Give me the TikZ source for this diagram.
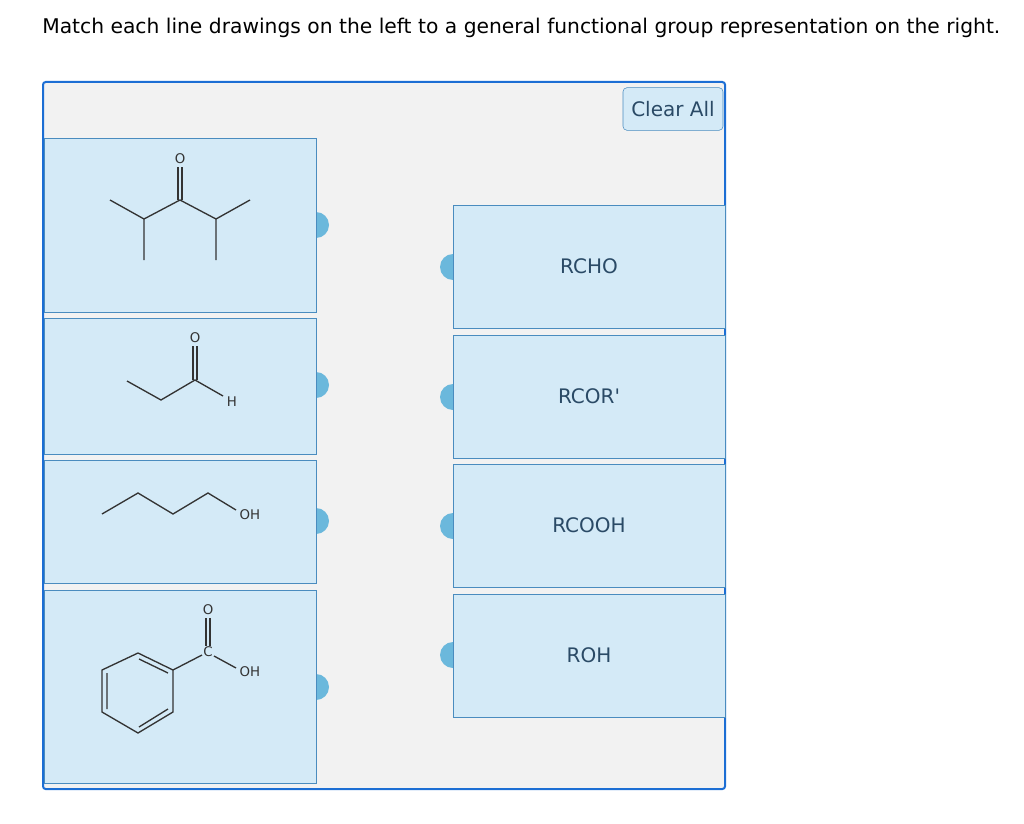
\documentclass[tikz,border=0pt]{standalone}
\usepackage{fontspec}
\setmainfont{DejaVu Sans}
\begin{document}
\begin{tikzpicture}[x=0.75pt, y=-0.75pt,
    card/.style={draw=cardline, fill=cardfill, line width=0.6pt},
    tab/.style={fill=tabfill},
    bond/.style={draw=bondcol, line width=1pt},
    atom/.style={inner sep=0pt, text=bondcol, font=\fontsize{10}{12}\selectfont},
    label/.style={text=labelcol, font=\fontsize{15}{17}\selectfont}
]
\definecolor{cardfill}{HTML}{D4EAF7}
\definecolor{cardline}{HTML}{4A8CBF}
\definecolor{tabfill}{HTML}{6BB8DC}
\definecolor{bondcol}{HTML}{333333}
\definecolor{labelcol}{HTML}{2A4A66}
\definecolor{framecol}{HTML}{1C6ED4}
\useasboundingbox (0,0) rectangle (1024,824);
\node[anchor=west, inner sep=0pt, font=\fontsize{15.2}{17}\selectfont] (title) at (42,28)
    {Match each line drawings on the left to a general functional group representation on the right.};
% frame
\draw[framecol, line width=1.5pt, fill=black!5, rounded corners=2pt] (43,82) rectangle (725,789);
\node[draw=cardline, fill=cardfill, rounded corners=3pt, minimum width=75pt, minimum height=32pt,
    label, inner sep=0pt] (clear) at (673,109) {Clear All};
% left cards with tabs
\foreach \ya/\yb/\yt [count=\i] in {138/312/225, 318/454/385, 460/583/521, 590/783/687} {
    \fill[tab] (316,\yt) circle[radius=13];
    \draw[card] (44,\ya) rectangle (316,\yb);
    \coordinate (L\i) at (316,\yt);
}
% right cards with tabs
\foreach \ya/\yb/\yt/\txt [count=\i] in {205/328/267/RCHO, 335/458/397/RCOR\textquotesingle, 464/587/526/RCOOH, 594/717/655/ROH} {
    \fill[tab] (453,\yt) circle[radius=13];
    \draw[card] (453,\ya) rectangle (725,\yb);
    \node[label] (R\i) at (589,{(\ya+\yb)/2}) {\txt};
}
% ketone
\node[atom] (k-o) at (180,159) {O};
\draw[bond] (178,167) -- (178,200) (182,167) -- (182,200);
\draw[bond] (110,200) -- (144,219) -- (180,200) -- (216,219) -- (250,200)
    (144,219) -- (144,260) (216,219) -- (216,260);
% aldehyde
\node[atom] (a-o) at (195,338) {O};
\node[atom] (a-h) at (232,402) {H};
\draw[bond] (193,346) -- (193,380) (197,346) -- (197,380);
\draw[bond] (127,381) -- (161,400) -- (195,380) -- (223,396);
% alcohol
\node[atom] (b-oh) at (250,515) {OH};
\draw[bond] (102,514) -- (138,493) -- (173,514) -- (208,493) -- (236,510);
% benzoic acid
\node[atom] (c-o) at (208,610) {O};
\node[atom] (c-c) at (208,652) {C};
\node[atom] (c-oh) at (250,672) {OH};
\draw[bond] (206,618) -- (206,646) (210,618) -- (210,646);
\draw[bond] (173,670) -- (202,655) (214,656) -- (236,668);
\draw[bond] (173,670) -- (138,653) -- (102,670) -- (102,712) -- (138,733) -- (173,712) -- cycle;
\draw[bond] (139,659) -- (168,673) (107,673) -- (107,709) (139,727) -- (168,709);
\end{tikzpicture}
\end{document}
